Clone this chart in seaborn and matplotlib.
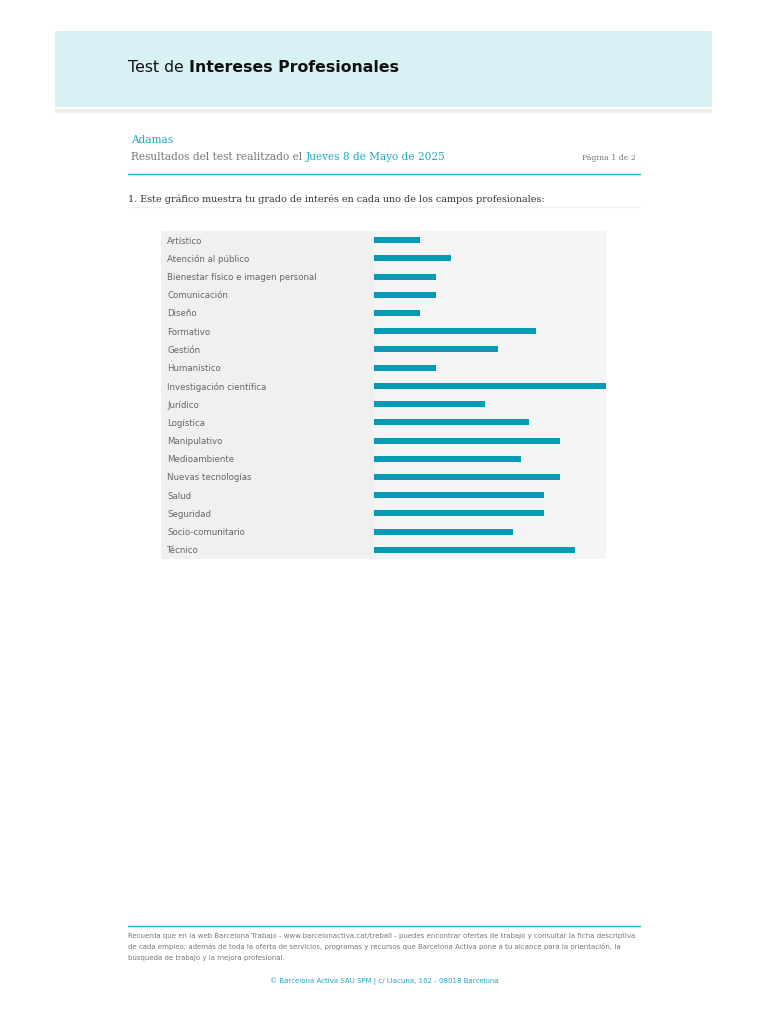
import pandas as pd
import matplotlib.pyplot as plt
import seaborn as sns
from matplotlib.patches import Rectangle
from matplotlib.lines import Line2D

# ============================ data ==============================================
campos = ['Artístico', 'Atención al público', 'Bienestar físico e imagen personal',
          'Comunicación', 'Diseño', 'Formativo', 'Gestión', 'Humanístico',
          'Investigación científica', 'Jurídico', 'Logística', 'Manipulativo',
          'Medioambiente', 'Nuevas tecnologías', 'Salud', 'Seguridad',
          'Socio-comunitario', 'Técnico']
puntuacion = [6, 10, 8, 8, 6, 21, 16, 8, 30, 14.4, 20, 24, 19, 24, 22, 22, 18, 26]
max_puntuacion = 30

df = pd.DataFrame({'campo': campos, 'puntuacion': puntuacion})

TEAL = '#069bb5'
TEAL_TXT = '#22a8c4'
W, H = 768, 1024

sns.set_style("white")
plt.rcParams['font.family'] = ['DejaVu Sans']

fig = plt.figure(figsize=(W / 100, H / 100), dpi=100)


def fx(x):
    return x / W


def fy(y):
    return 1 - y / H


def box(x0, y0, x1, y1, color):
    fig.patches.append(Rectangle((fx(x0), fy(y1)), fx(x1) - fx(x0), fy(y0) - fy(y1),
                                 transform=fig.transFigure, color=color, lw=0, zorder=-1))


def hline(x0, x1, y, color, lw=1.0):
    fig.add_artist(Line2D([fx(x0), fx(x1)], [fy(y), fy(y)], transform=fig.transFigure,
                          color=color, lw=lw))


def text_pair(x, y, a, b, kw_a, kw_b):
    t1 = fig.text(fx(x), fy(y), a, va='center', ha='left', **kw_a)
    fig.canvas.draw()
    bb = t1.get_window_extent()
    fig.text(bb.x1 / W, fy(y), b, va='center', ha='left', **kw_b)


# header band
box(55, 31, 712, 107, '#d9f0f4')
box(55, 109, 712, 113, '#eeeeee')
text_pair(128, 68, 'Test de ', 'Intereses Profesionales',
          dict(fontsize=11.3, color='#111111'),
          dict(fontsize=11.3, color='#111111', fontweight='bold'))

# sub header
fig.text(fx(131), fy(140), 'Adamas', family='DejaVu Serif', fontsize=7.6,
         color=TEAL_TXT, va='center')
text_pair(131, 157, 'Resultados del test realitzado el ', 'Jueves 8 de Mayo de 2025',
          dict(family='DejaVu Serif', fontsize=7.6, color='#777777'),
          dict(family='DejaVu Serif', fontsize=7.6, color=TEAL_TXT))
fig.text(fx(636), fy(158), 'Página 1 de 2', family='DejaVu Serif', fontsize=5.6,
         color='#777777', va='center', ha='right')
hline(128, 640, 174, TEAL_TXT, 1.0)
fig.text(fx(128), fy(199), '1. Este gráfico muestra tu grado de interés en cada uno de los campos profesionales:',
         family='DejaVu Serif', fontsize=6.9, color='#333333', va='center')
hline(128, 640, 207, '#f0f0f0', 1.0)

# chart
box(161, 231, 374, 559, '#f0f0f0')
ax = fig.add_axes([fx(374), fy(559), fx(606) - fx(374), fy(231) - fy(559)])
ax.set_facecolor('#f5f5f5')
sns.barplot(data=df, x='puntuacion', y='campo', color=TEAL, width=0.33,
            saturation=1, linewidth=0, ax=ax)
ax.set_xlim(0, max_puntuacion)
ax.set_ylim(len(campos) - 0.5, -0.5)
ax.set_xlabel('')
ax.set_ylabel('')
ax.set_xticks([])
for s in ax.spines.values():
    s.set_visible(False)
ax.tick_params(axis='y', length=0, pad=(374 - 167) * 0.72)
for lab in ax.get_yticklabels():
    lab.set_horizontalalignment('left')
    lab.set_verticalalignment('center_baseline')
    lab.set_fontsize(6.2)
    lab.set_color('#666666')

# footer
hline(128, 640, 926, TEAL_TXT, 1.0)
footer = ['Recuerda que en la web Barcelona Trabajo - www.barcelonactiva.cat/treball - puedes encontrar ofertas de trabajo y consultar la ficha descriptiva',
          'de cada empleo; además de toda la oferta de servicios, programas y recursos que Barcelona Activa pone a tu alcance para la orientación, la',
          'búsqueda de trabajo y la mejora profesional.']
for i, line in enumerate(footer):
    fig.text(fx(128), fy(936 + i * 11), line, fontsize=5.09, color='#777777', va='center')
fig.text(fx(384), fy(981), '© Barcelona Activa SAU SPM | c/ Llacuna, 162 - 08018 Barcelona',
         fontsize=5, color=TEAL_TXT, va='center', ha='center')

plt.savefig('out.png', dpi=100)
plt.close()
